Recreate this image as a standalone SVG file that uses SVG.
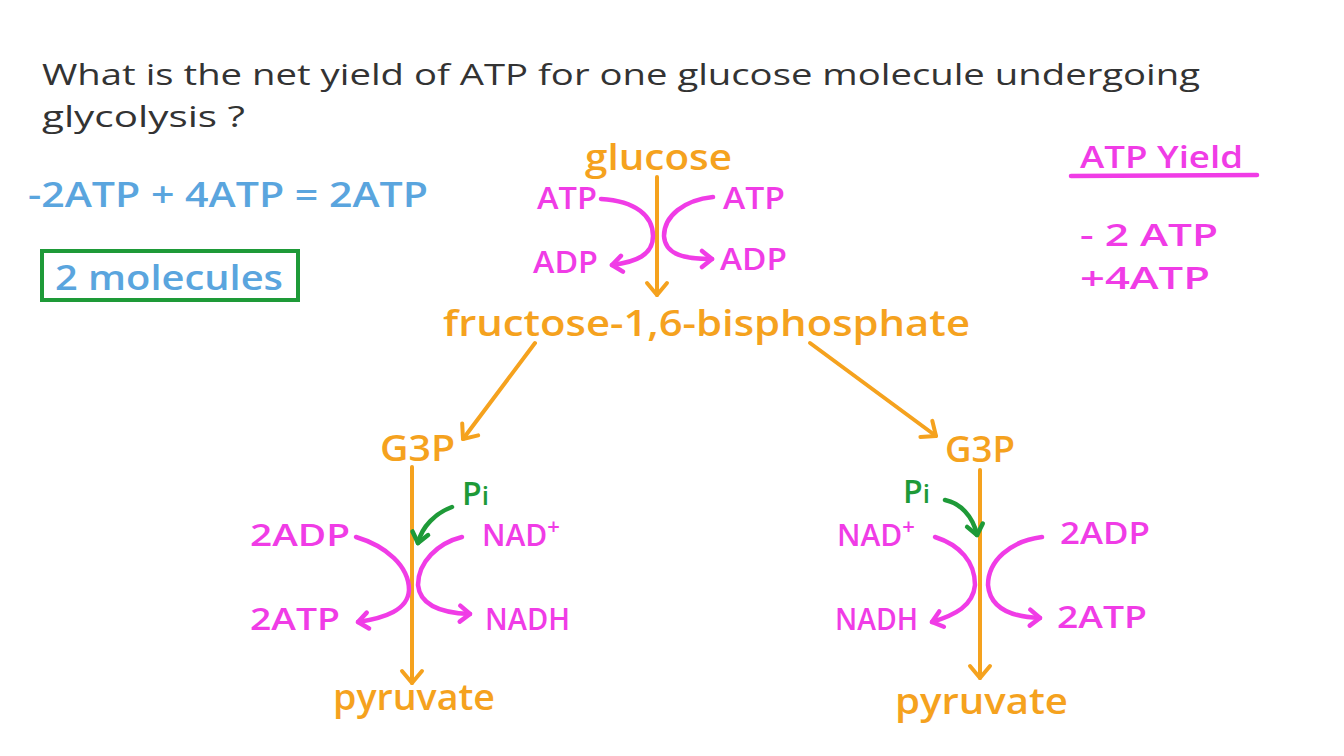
<svg xmlns="http://www.w3.org/2000/svg" width="1344" height="756" viewBox="0 0 1344 756">
<style>
text{font-family:"Open Sans","Liberation Sans",sans-serif;font-weight:600;}
.q{fill:#333333;font-size:30px;font-weight:500;}
.o{fill:#F5A21E;font-size:36px;}
.m{fill:#F03CE6;font-size:30px;}
.b{fill:#5AA5DE;font-size:34px;}
.g{fill:#1E9A38;font-size:32px;}
.lo{fill:none;stroke:#F5A21E;stroke-width:4;stroke-linecap:round;}
.lm{fill:none;stroke:#F03CE6;stroke-width:4.5;stroke-linecap:round;}
.lg{fill:none;stroke:#1E9A38;stroke-width:4.5;stroke-linecap:round;}
</style>
<defs>
<marker id="ao" markerUnits="userSpaceOnUse" markerWidth="30" markerHeight="30" refX="15" refY="15" orient="auto" viewBox="0 0 30 30"><path d="M3,5 L15,15 L3,25" fill="none" stroke="#F5A21E" stroke-width="4" stroke-linecap="round" stroke-linejoin="round"/></marker>
<marker id="am" markerUnits="userSpaceOnUse" markerWidth="30" markerHeight="30" refX="15" refY="15" orient="auto" viewBox="0 0 30 30"><path d="M5,7 L15,15 L5,23" fill="none" stroke="#F03CE6" stroke-width="4.5" stroke-linecap="round" stroke-linejoin="round"/></marker>
<marker id="ag" markerUnits="userSpaceOnUse" markerWidth="30" markerHeight="30" refX="15" refY="15" orient="auto" viewBox="0 0 30 30"><path d="M5,7 L15,15 L5,23" fill="none" stroke="#1E9A38" stroke-width="4.5" stroke-linecap="round" stroke-linejoin="round"/></marker>
</defs>
<rect width="1344" height="756" fill="#ffffff"/>

<g id="question">
<text class="q" x="42" y="85" textLength="1158" lengthAdjust="spacingAndGlyphs">What is the net yield of ATP for one glucose molecule undergoing</text>
<text class="q" x="42" y="127" textLength="203" lengthAdjust="spacingAndGlyphs">glycolysis ?</text>
</g>

<g id="answer">
<text class="b" x="28" y="207" textLength="400" lengthAdjust="spacingAndGlyphs">-2ATP + 4ATP = 2ATP</text>
<rect x="42" y="251" width="256" height="49" fill="none" stroke="#1E9A38" stroke-width="4"/>
<text class="b" x="55" y="290" textLength="228" lengthAdjust="spacingAndGlyphs">2 molecules</text>
</g>

<g id="atp-yield">
<text class="m" x="1080" y="168" textLength="163" lengthAdjust="spacingAndGlyphs">ATP Yield</text>
<path d="M1071,176 L1257,175" class="lm"/>
<text class="m" x="1080" y="246" textLength="138" lengthAdjust="spacingAndGlyphs">- 2 ATP</text>
<text class="m" x="1080" y="289" textLength="130" lengthAdjust="spacingAndGlyphs">+4ATP</text>
</g>

<g id="glucose"><text class="o" x="585" y="170" textLength="147" lengthAdjust="spacingAndGlyphs">glucose</text></g>
<g id="f16bp"><text class="o" x="443" y="336" textLength="527" lengthAdjust="spacingAndGlyphs">fructose-1,6-bisphosphate</text></g>
<g id="g3p-left"><text class="o" x="380" y="461" textLength="75" lengthAdjust="spacingAndGlyphs">G3P</text></g>
<g id="g3p-right"><text class="o" x="945" y="462" textLength="70" lengthAdjust="spacingAndGlyphs">G3P</text></g>
<g id="pyruvate-left"><text class="o" x="333" y="710" textLength="162" lengthAdjust="spacingAndGlyphs">pyruvate</text></g>
<g id="pyruvate-right"><text class="o" x="895" y="714" textLength="173" lengthAdjust="spacingAndGlyphs">pyruvate</text></g>

<g id="top-cofactors">
<text class="m" x="537" y="209" textLength="60" lengthAdjust="spacingAndGlyphs">ATP</text>
<text class="m" x="533" y="273" textLength="65" lengthAdjust="spacingAndGlyphs">ADP</text>
<text class="m" x="723" y="209" textLength="62" lengthAdjust="spacingAndGlyphs">ATP</text>
<text class="m" x="720" y="270" textLength="67" lengthAdjust="spacingAndGlyphs">ADP</text>
</g>

<g id="left-cofactors">
<text class="g" x="462" y="505">P<tspan font-size="26">i</tspan></text>
<text class="m" x="250" y="546" textLength="100" lengthAdjust="spacingAndGlyphs">2ADP</text>
<text class="m" x="250" y="630" textLength="90" lengthAdjust="spacingAndGlyphs">2ATP</text>
<text class="m" x="482" y="546">NAD<tspan font-size="22" dy="-12">+</tspan></text>
<text class="m" x="485" y="630" textLength="85" lengthAdjust="spacingAndGlyphs">NADH</text>
</g>

<g id="right-cofactors">
<text class="g" x="903" y="503">P<tspan font-size="26">i</tspan></text>
<text class="m" x="837" y="546">NAD<tspan font-size="22" dy="-12">+</tspan></text>
<text class="m" x="835" y="630" textLength="83" lengthAdjust="spacingAndGlyphs">NADH</text>
<text class="m" x="1060" y="544" textLength="90" lengthAdjust="spacingAndGlyphs">2ADP</text>
<text class="m" x="1057" y="628" textLength="90" lengthAdjust="spacingAndGlyphs">2ATP</text>
</g>

<g id="connectors">
<path class="lo" d="M657,177 L657,295" marker-end="url(#ao)"/>
<path class="lo" d="M535,343 L463,439" marker-end="url(#ao)"/>
<path class="lo" d="M810,343 L936,436" marker-end="url(#ao)"/>
<path class="lo" d="M412,467 L412,683" marker-end="url(#ao)"/>
<path class="lo" d="M980,470 L980,678" marker-end="url(#ao)"/>

<path class="lm" d="M601,199 C636,201 653,216 653,236 C653,255 636,262 612,265" marker-end="url(#am)"/>
<path class="lm" d="M713,197 C684,200 664,216 664,236 C665,255 685,259 712,259" marker-end="url(#am)"/>

<path class="lm" d="M356,537 C386,546 409,566 409,590 C408,610 385,618 358,622" marker-end="url(#am)"/>
<path class="lm" d="M462,537 C438,543 418,562 418,585 C420,606 442,613 470,614" marker-end="url(#am)"/>
<path class="lm" d="M935,537 C960,545 975,562 975,585 C973,606 955,615 932,622" marker-end="url(#am)"/>
<path class="lm" d="M1042,537 C1010,541 988,561 988,585 C990,608 1011,617 1040,618" marker-end="url(#am)"/>

<path class="lg" d="M452,507 C436,513 422,526 418,543" marker-end="url(#ag)"/>
<path class="lg" d="M945,500 C960,503 973,516 977,535" marker-end="url(#ag)"/>
</g>
</svg>
